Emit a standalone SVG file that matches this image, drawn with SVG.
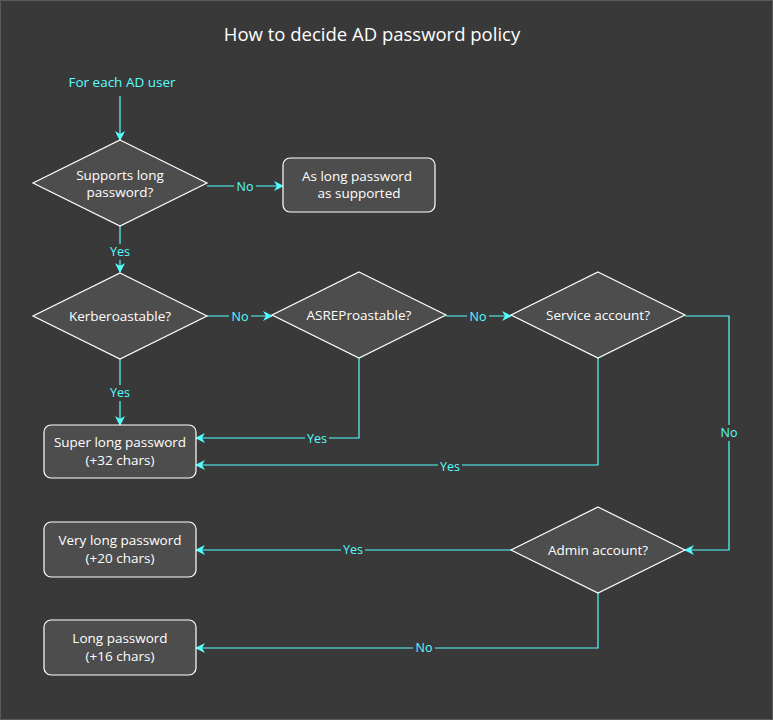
<svg xmlns="http://www.w3.org/2000/svg" width="773" height="720" viewBox="0 0 773 720">
<defs>
<marker id="ah" markerWidth="10" markerHeight="10" refX="9" refY="5" orient="auto" markerUnits="userSpaceOnUse"><path d="M0,0 L10,5 L0,10 L3,5 Z" fill="#55ffff"/></marker>
<style>
.n{fill:#4d4d4d;stroke:#ffffff;stroke-width:1.2}
.t{font-family:"Open Sans","Liberation Sans",sans-serif;font-size:13.5px;fill:#ffffff;text-anchor:middle}
.e{fill:none;stroke:#55ffff;stroke-width:1.2;marker-end:url(#ah)}
.l{font-family:"Open Sans","Liberation Sans",sans-serif;font-size:12.5px;fill:#55ffff;text-anchor:middle}
.lb{fill:#393939}
</style>
</defs>
<rect x="0.5" y="0.5" width="772" height="719" fill="#393939" stroke="#5a5a5a"/>
<text x="372" y="41" class="t" style="font-size:18.5px">How to decide AD password policy</text>
<g id="start"><text x="122" y="87" class="t" style="fill:#55ffff">For each AD user</text></g>
<g id="connectors">
<path class="e" d="M120,96 V140"/>
<path class="e" d="M207,186 H283"/>
<rect class="lb" x="234" y="178" width="22" height="16"/><text class="l" x="245" y="191">No</text>
<path class="e" d="M120,226 V272"/>
<rect class="lb" x="108" y="244" width="24" height="16"/><text class="l" x="120" y="256">Yes</text>
<path class="e" d="M207,316 H272"/>
<rect class="lb" x="229" y="309" width="22" height="16"/><text class="l" x="240" y="321">No</text>
<path class="e" d="M446,316 H511"/>
<rect class="lb" x="467" y="309" width="22" height="16"/><text class="l" x="478" y="321">No</text>
<path class="e" d="M120,359 V425"/>
<rect class="lb" x="108" y="385" width="24" height="16"/><text class="l" x="120" y="397">Yes</text>
<path class="e" d="M359,358 V438 H196"/>
<rect class="lb" x="305" y="431" width="24" height="16"/><text class="l" x="317" y="443">Yes</text>
<path class="e" d="M598,358 V465 H196"/>
<rect class="lb" x="438" y="459" width="24" height="16"/><text class="l" x="450" y="471">Yes</text>
<path class="e" d="M685,316 H729 V550 H685"/>
<rect class="lb" x="718" y="425" width="22" height="16"/><text class="l" x="729" y="437">No</text>
<path class="e" d="M511,550 H196"/>
<rect class="lb" x="341" y="542" width="24" height="16"/><text class="l" x="353" y="554">Yes</text>
<path class="e" d="M598,593 V648 H196"/>
<rect class="lb" x="413" y="640" width="22" height="16"/><text class="l" x="424" y="652">No</text>
</g>
<g id="d1"><path class="n" d="M120,140 L207,183 L120,226 L33,183 Z"/><text class="t" x="120" y="180">Supports long</text><text class="t" x="120" y="197">password?</text></g>
<g id="r1"><rect class="n" x="283" y="158" width="152" height="54" rx="7"/><text class="t" x="357" y="181">As long password</text><text class="t" x="359" y="198">as supported</text></g>
<g id="d2"><path class="n" d="M120,273 L207,316 L120,359 L33,316 Z"/><text class="t" x="120" y="321">Kerberoastable?</text></g>
<g id="d3"><path class="n" d="M359,272 L446,315 L359,358 L272,315 Z"/><text class="t" x="359" y="320">ASREProastable?</text></g>
<g id="d4"><path class="n" d="M598,272 L685,315 L598,358 L511,315 Z"/><text class="t" x="598" y="320">Service account?</text></g>
<g id="r2"><rect class="n" x="44" y="425" width="152" height="53" rx="7"/><text class="t" x="120" y="447">Super long password</text><text class="t" x="120" y="465">(+32 chars)</text></g>
<g id="d5"><path class="n" d="M598,507 L685,550 L598,593 L511,550 Z"/><text class="t" x="598" y="555">Admin account?</text></g>
<g id="r3"><rect class="n" x="44" y="522" width="152" height="55" rx="7"/><text class="t" x="120" y="545">Very long password</text><text class="t" x="120" y="563">(+20 chars)</text></g>
<g id="r4"><rect class="n" x="44" y="620" width="152" height="55" rx="7"/><text class="t" x="120" y="643">Long password</text><text class="t" x="120" y="661">(+16 chars)</text></g>
</svg>
